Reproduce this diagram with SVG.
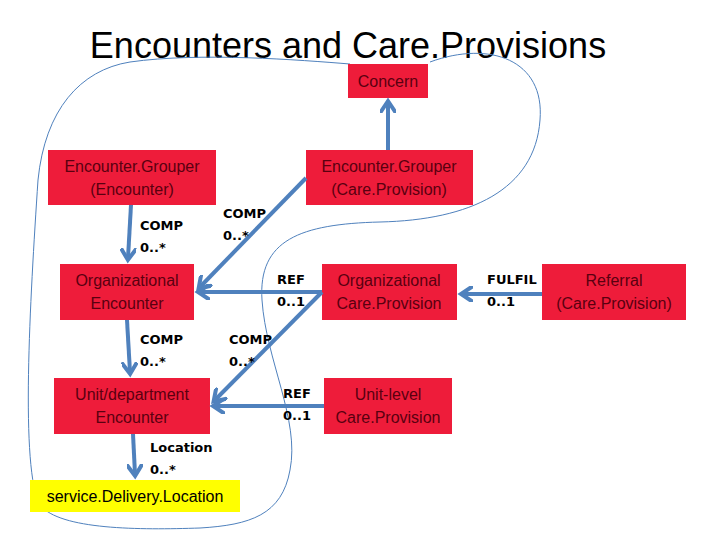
<svg xmlns="http://www.w3.org/2000/svg" width="720" height="540" viewBox="0 0 720 540">
<style>
.box{fill:#ee1c3a}
.t{font-family:"Liberation Sans",Arial,sans-serif;font-size:16px;fill:#5a0010;text-anchor:middle}
.l{font-family:"DejaVu Sans",sans-serif;font-size:13px;font-weight:bold;fill:#000}
.c{stroke:#4f81bd;stroke-width:4;fill:none;marker-end:url(#a)}
</style>
<defs><marker id="a" markerWidth="4" markerHeight="4" refX="2.5" refY="2" orient="auto"><path d="M0,0 L3,2 L0,4" fill="none" stroke="#4f81bd" stroke-width="1"/></marker></defs>
<rect width="720" height="540" fill="#fff"/>
<text x="348" y="58" font-family="'Liberation Sans',Arial,sans-serif" font-size="36" text-anchor="middle" fill="#000">Encounters and Care.Provisions</text>
<path d="M430,62 C490,40 545,60 540,120 C535,190 470,220 380,222 C300,224 258,240 262,300 C266,360 300,420 290,470 C282,515 250,525 200,528 C140,530 60,530 40,505 C20,470 30,300 38,180 C45,110 80,70 130,62 C200,52 300,60 350,64" fill="none" stroke="#4f81bd" stroke-width="1"/>
<g id="concern"><rect class="box" x="348" y="64" width="80" height="34"/><text class="t" x="388" y="87">Concern</text></g>
<g id="egenc"><rect class="box" x="48" y="150" width="168" height="55"/><text class="t" x="132" y="172">Encounter.Grouper</text><text class="t" x="132" y="195">(Encounter)</text></g>
<g id="egcp"><rect class="box" x="306" y="150" width="167" height="55"/><text class="t" x="389" y="172">Encounter.Grouper</text><text class="t" x="389" y="195">(Care.Provision)</text></g>
<g id="orgenc"><rect class="box" x="60" y="264" width="134" height="56"/><text class="t" x="127" y="286">Organizational</text><text class="t" x="127" y="309">Encounter</text></g>
<g id="orgcp"><rect class="box" x="322" y="264" width="135" height="56"/><text class="t" x="389" y="286">Organizational</text><text class="t" x="389" y="309">Care.Provision</text></g>
<g id="unitenc"><rect class="box" x="54" y="378" width="156" height="56"/><text class="t" x="132" y="400">Unit/department</text><text class="t" x="132" y="423">Encounter</text></g>
<g id="unitcp"><rect class="box" x="324" y="378" width="128" height="56"/><text class="t" x="388" y="400">Unit-level</text><text class="t" x="388" y="423">Care.Provision</text></g>
<g id="referral"><rect class="box" x="542" y="264" width="144" height="56"/><text class="t" x="614" y="286">Referral</text><text class="t" x="614" y="309">(Care.Provision)</text></g>
<g id="sdl"><rect x="30" y="480" width="210" height="32" fill="#ffff00"/><text class="t" x="135" y="502" fill="#000" style="fill:#000">service.Delivery.Location</text></g>
<g id="connectors">
<path class="c" d="M131,205 L128,258"/>
<path class="c" d="M306,178 L200,287"/>
<path class="c" d="M322,292 L200,292"/>
<path class="c" d="M127,320 L130,372"/>
<path class="c" d="M322,292 L215,400"/>
<path class="c" d="M324,406 L215,406"/>
<path class="c" d="M133,434 L135,474"/>
<path class="c" d="M542,294 L463,294"/>
<path class="c" d="M388,150 L388,103"/>
</g>
<g id="labels">
<text class="l" x="140" y="230">COMP</text><text class="l" x="140" y="252">0..*</text>
<text class="l" x="223" y="218">COMP</text><text class="l" x="223" y="240">0..*</text>
<text class="l" x="277" y="284">REF</text><text class="l" x="277" y="306">0..1</text>
<text class="l" x="140" y="344">COMP</text><text class="l" x="140" y="366">0..*</text>
<text class="l" x="229" y="344">COMP</text><text class="l" x="229" y="366">0..*</text>
<text class="l" x="283" y="398">REF</text><text class="l" x="283" y="420">0..1</text>
<text class="l" x="150" y="452">Location</text><text class="l" x="150" y="474">0..*</text>
<text class="l" x="487" y="284">FULFIL</text><text class="l" x="487" y="306">0..1</text>
</g>
</svg>
